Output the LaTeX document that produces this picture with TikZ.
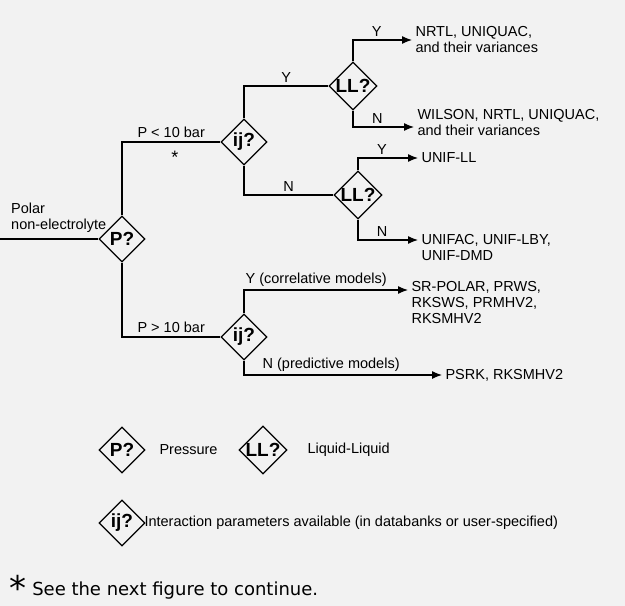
\documentclass[tikz,border=0pt]{standalone}
\usepackage{fontspec}
\setmainfont{Liberation Sans}
\newfontfamily\dvs{DejaVu Sans}
\usetikzlibrary{shapes.geometric,arrows.meta}
\begin{document}
\begin{tikzpicture}[x=1pt,y=-1pt,
 dia/.style={diamond,draw,line width=1.2pt,inner sep=0pt,minimum width=46pt,minimum height=46pt,font=\bfseries\fontsize{19}{19}\selectfont},
 ln/.style={line width=1.2pt},
 ar/.style={ln,-{Latex[length=10pt,width=8pt]}},
 lb/.style={font=\fontsize{14.5}{16}\selectfont},
 res/.style={lb,anchor=west,align=left}]
\fill[gray!10] (0,0) rectangle (625,606);
\useasboundingbox (0,0) rectangle (625,606);
\node[dia] (p) at (122,239) {P?};
\node[dia] (ij1) at (244,142) {ij?};
\node[dia] (ll1) at (353,86) {LL?};
\node[dia] (ll2) at (358,195) {LL?};
\node[dia] (ij2) at (244,337) {ij?};
\coordinate (in) at (0,239);
\node[lb,anchor=south west,align=left,inner sep=1pt] at (10,234) {Polar\\non-electrolyte};
\draw[ln] (in) -- (p.west);
\draw[ln] (p.north) |- (ij1.west) node[lb,pos=0.75,above] {P < 10 bar};
\node[font=\fontsize{18}{18}\selectfont] at (175,157) {*};
\draw[ln] (ij1.north) |- (ll1.west) node[lb,pos=0.75,above] {Y};
\draw[ln] (ij1.south) |- (ll2.west) node[lb,pos=0.75,above] {N};
\node[res] (r1) at (412,40) {NRTL, UNIQUAC,\\and their variances};
\node[res] (r2) at (414,123) {WILSON, NRTL, UNIQUAC,\\and their variances};
\node[res] (r3) at (418,158) {UNIF-LL};
\node[res] (r4) at (418,248) {UNIFAC, UNIF-LBY,\\UNIF-DMD};
\draw[ar] (ll1.north) |- (r1.west) node[lb,pos=0.7,above] {Y};
\draw[ar] (ll1.south) |- (r2.west |- 0,127) node[lb,pos=0.7,above] {N};
\draw[ar] (ll2.north) |- (r3.west) node[lb,pos=0.7,above] {Y};
\draw[ar] (ll2.south) |- (r4.west |- 0,240) node[lb,pos=0.7,above] {N};
\draw[ln] (p.south) |- (ij2.west) node[lb,pos=0.75,above] {P > 10 bar};
\node[res] (r5) at (408,303) {SR-POLAR, PRWS,\\RKSWS, PRMHV2,\\RKSMHV2};
\node[res] (r6) at (442,375) {PSRK, RKSMHV2};
\draw[ar] (ij2.north) |- (r5.west |- 0,290) node[lb,pos=0.72,above] {Y (correlative models)};
\draw[ar] (ij2.south) |- (r6.west) node[lb,pos=0.72,above] {N (predictive models)};
\node[dia] (lp) at (122,450) {P?};
\node[res] at (156,450) {Pressure};
\node[dia] (lll) at (263,450) {LL?};
\node[res] at (304,450) {Liquid-Liquid};
\node[dia] (lij) at (122,523) {ij?};
\node[res] at (141,523) {Interaction parameters available (in databanks or user-specified)};
\node[anchor=west,font=\dvs\fontsize{18}{20}\selectfont] at (6,588) {\raisebox{-5pt}{\fontsize{34}{34}\selectfont*} See the next figure to continue.};
\end{tikzpicture}
\end{document}
